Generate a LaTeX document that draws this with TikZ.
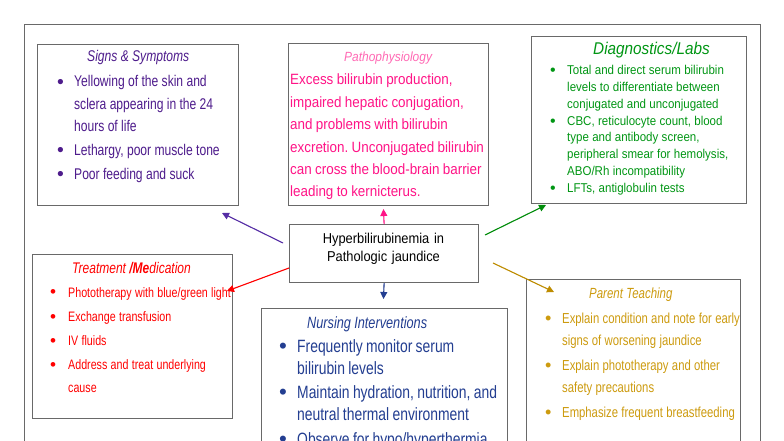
\documentclass[tikz,border=0pt]{standalone}
\usepackage{fontspec}
\setmainfont{Liberation Sans}
\newfontfamily\condA[FakeStretch=0.78]{Liberation Sans}
\newfontfamily\condB[FakeStretch=0.9]{Liberation Sans}
\usetikzlibrary{arrows.meta}
\definecolor{framegray}{RGB}{105,105,105}
\definecolor{sigcol}{RGB}{78,28,140}
\definecolor{sigarrow}{RGB}{85,45,165}
\definecolor{patcol}{RGB}{255,20,135}
\definecolor{pattitle}{RGB}{255,105,180}
\definecolor{diacol}{RGB}{0,150,20}
\definecolor{diaarrow}{RGB}{0,140,10}
\definecolor{trtcol}{RGB}{255,0,0}
\definecolor{nurcol}{RGB}{35,62,145}
\definecolor{parcol}{RGB}{205,155,15}
\definecolor{pararrow}{RGB}{190,140,0}
\newlength\bulind
\newlength\itemgap
\newcommand{\bul}[1]{\par\vspace{\itemgap}\hangindent=\bulind\hangafter=1\noindent
  \makebox[\bulind][l]{\hspace{1pt}\raisebox{-0.07em}{\rmfamily\upshape\scalebox{1.25}{\textbullet}}}#1\par}
\tikzset{
  frame/.style={draw=framegray, line width=1.2pt, anchor=north west, inner sep=0pt},
  txt/.style={anchor=base west, inner sep=0pt, text width=260pt, align=left},
  link/.style={-{Triangle[length=7pt,width=7pt]}, line width=1.1pt},
}
\begin{document}
\frenchspacing
\begin{tikzpicture}[x=1pt,y=-1pt]
  \useasboundingbox (0,0) rectangle (784,441);
  \fill[white] (0,0) rectangle (784,441);
  \node[frame, minimum width=736pt, minimum height=470pt] (outer) at (24,24) {};

  % signs & symptoms
  \node[frame, minimum width=201pt, minimum height=161pt] (signs) at (37,44) {};
  \node[txt, text=sigcol] (signstxt) at (56,62) {%
    {\condA\fontsize{15.5}{18}\selectfont\itshape\hspace*{31pt}Signs \& Symptoms\par}
    \condA\fontsize{15.5}{22.3}\selectfont\setlength\bulind{18pt}\setlength\itemgap{1.5pt}%
    \vspace{1.2pt}%
    \bul{Yellowing of the skin and\newline sclera appearing in the 24\newline hours of life}
    \bul{Lethargy, poor muscle tone}
    \bul{Poor feeding and suck}};

  % pathophysiology
  \node[frame, minimum width=200pt, minimum height=162pt] (patho) at (288,43) {};
  \node[txt, text=patcol] (pathotxt) at (290,62) {%
    {\condB\fontsize{13.3}{16}\selectfont\itshape\color{pattitle}\hspace*{54pt}Pathophysiology\par}
    \condB\fontsize{14.9}{22.4}\selectfont\vspace{0.6pt}%
    Excess bilirubin production,\newline impaired hepatic conjugation,\newline
    and problems with bilirubin\newline excretion. Unconjugated bilirubin\newline
    can cross the blood-brain barrier\newline leading to kernicterus.\par};

  % diagnostics
  \node[frame, minimum width=215pt, minimum height=167pt] (diag) at (531,36) {};
  \node[txt, text=diacol] (diagtxt) at (549,55) {%
    {\condB\fontsize{17}{20}\selectfont\itshape\hspace*{44pt}Diagnostics/Labs\par}
    \condB\fontsize{12.8}{16.6}\selectfont\setlength\bulind{18pt}\setlength\itemgap{0.5pt}%
    \vspace{2.9pt}%
    \bul{Total and direct serum bilirubin\newline levels to differentiate between\newline conjugated and unconjugated}
    \bul{CBC, reticulocyte count, blood\newline type and antibody screen,\newline peripheral smear for hemolysis,\newline ABO/Rh incompatibility}
    \bul{LFTs, antiglobulin tests}};

  % treatment
  \node[frame, minimum width=200pt, minimum height=164pt] (treat) at (32,254) {};
  \node[txt, text=trtcol] (treattxt) at (49,273) {%
    {\condA\fontsize{15.4}{18}\selectfont\itshape\hspace*{23pt}Treatment \textbf{/Me}dication\par}
    \condA\fontsize{13.7}{23}\selectfont\setlength\bulind{19pt}\setlength\itemgap{1.3pt}%
    \vspace{-0.3pt}%
    \bul{Phototherapy with blue/green light}
    \bul{Exchange transfusion}
    \bul{IV fluids}
    \bul{Address and treat underlying\newline cause}};

  % nursing interventions
  \node[frame, minimum width=246pt, minimum height=170pt] (nurse) at (261,308) {};
  \node[txt, text=nurcol] (nursetxt) at (278,328) {%
    {\condA\fontsize{16.3}{19}\selectfont\itshape\hspace*{29pt}Nursing Interventions\par}
    \condA\fontsize{17.8}{22}\selectfont\setlength\bulind{19pt}\setlength\itemgap{2.5pt}%
    \vspace{-0.5pt}%
    \bul{Frequently monitor serum\newline bilirubin levels}
    \bul{Maintain hydration, nutrition, and\newline neutral thermal environment}
    \bul{Observe for hypo/hyperthermia}};

  % parent teaching
  \node[frame, minimum width=214pt, minimum height=190pt] (parent) at (526,279) {};
  \node[txt, text=parcol] (parenttxt) at (544,298) {%
    {\condA\fontsize{14.7}{18}\selectfont\itshape\hspace*{45pt}Parent Teaching\par}
    \condA\fontsize{14.5}{22}\selectfont\setlength\bulind{18pt}\setlength\itemgap{3pt}%
    \bul{Explain condition and note for early\newline signs of worsening jaundice}
    \bul{Explain phototherapy and other\newline safety precautions}
    \bul{Emphasize frequent breastfeeding}};

  % hub
  \node[frame, minimum width=189pt, minimum height=58pt] (hub) at (289,224) {};
  \node[txt, anchor=base, text width=180pt, align=center, font=\condB\fontsize{14.3}{18}\selectfont]
    (hubtxt) at (383.5,243) {Hyperbilirubinemia in\\Pathologic jaundice};

  % arrows
  \coordinate (sigS) at (283,243);  \coordinate (sigE) at (222,213);
  \coordinate (patE) at (383.5,209);
  \coordinate (diaS) at (485,235);  \coordinate (diaE) at (546,205);
  \coordinate (trtS) at (289,268);  \coordinate (trtE) at (227,291);
  \coordinate (nurE) at (383.5,299);
  \coordinate (parS) at (493,263);  \coordinate (parE) at (554,292);
  \draw[link, draw=sigarrow, fill=sigarrow] (sigS) -- (sigE);
  \draw[link, draw=patcol, fill=patcol] (hub.north) -- (patE);
  \draw[link, draw=diaarrow, fill=diaarrow] (diaS) -- (diaE);
  \draw[link, draw=trtcol, fill=trtcol] (trtS) -- (trtE);
  \draw[link, draw=nurcol, fill=nurcol] (hub.south) -- (nurE);
  \draw[link, draw=pararrow, fill=pararrow] (parS) -- (parE);
\end{tikzpicture}
\end{document}
